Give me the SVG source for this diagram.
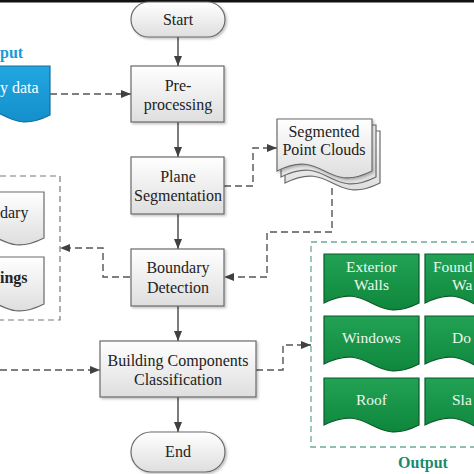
<svg xmlns="http://www.w3.org/2000/svg" width="474" height="474" viewBox="0 0 474 474">
<style>
  .t{font-family:"Liberation Serif","Times New Roman",serif;font-size:16px;fill:#222;text-anchor:middle}
  .tw{font-family:"Liberation Serif","Times New Roman",serif;font-size:15.5px;fill:#eef8f0;text-anchor:middle}
  .proc{fill:url(#gGray);stroke:#6a6a6a;stroke-width:1.2;filter:url(#sh)}
  .doc{fill:url(#gGray);stroke:#6a6a6a;stroke-width:1.2}
  .gdoc{fill:url(#gGreen);stroke:#0b5a2a;stroke-width:1.2}
  .solid{fill:none;stroke:#444;stroke-width:1.4;marker-end:url(#ah)}
  .dash{fill:none;stroke:#555;stroke-width:1.4;stroke-dasharray:7 4;marker-end:url(#ah)}
</style>
<defs>
  <linearGradient id="gGray" x1="0" y1="0" x2="0" y2="1">
    <stop offset="0" stop-color="#ffffff"/>
    <stop offset="1" stop-color="#dedede"/>
  </linearGradient>
  <linearGradient id="gGreen" x1="0" y1="0" x2="0" y2="1">
    <stop offset="0" stop-color="#22a255"/>
    <stop offset="1" stop-color="#0e873c"/>
  </linearGradient>
  <linearGradient id="gBlue" x1="0" y1="0" x2="0" y2="1">
    <stop offset="0" stop-color="#22a6e0"/>
    <stop offset="1" stop-color="#1490cc"/>
  </linearGradient>
  <filter id="sh" x="-10%" y="-10%" width="130%" height="130%">
    <feDropShadow dx="1.5" dy="1.5" stdDeviation="1" flood-color="#000" flood-opacity="0.25"/>
  </filter>
  <marker id="ah" viewBox="0 0 10 8" refX="10" refY="4" markerWidth="10" markerHeight="8" markerUnits="userSpaceOnUse" orient="auto">
    <path d="M0,0 L10,4 L0,8 z" fill="#404040"/>
  </marker>
</defs>

<rect x="0" y="0" width="474" height="2.5" fill="#111"/>

<!-- containers -->
<g id="left-container">
  <rect x="-10" y="176" width="70" height="144" fill="none" stroke="#777" stroke-width="1.2" stroke-dasharray="6 4"/>
</g>
<g id="output-container">
  <rect x="311" y="242" width="180" height="205" fill="none" stroke="#6aaa9a" stroke-width="1.3" stroke-dasharray="6 4"/>
  <text x="423" y="468" class="t" style="font-weight:bold;fill:#1a8a6e">Output</text>
</g>

<!-- connectors -->
<g id="connectors">
  <line x1="178" y1="37" x2="178" y2="66" class="solid"/>
  <line x1="178" y1="122" x2="178" y2="157" class="solid"/>
  <line x1="178" y1="214" x2="178" y2="249" class="solid"/>
  <line x1="178" y1="306" x2="178" y2="341" class="solid"/>
  <line x1="178" y1="397" x2="178" y2="432" class="solid"/>
  <polyline points="50,94 131,94" class="dash"/>
  <polyline points="224,186 253,186 253,148 277,148" class="dash"/>
  <polyline points="332,188 332,232 267,232 267,277 224,277" class="dash"/>
  <polyline points="130,277 103,277 103,248 60,248" class="dash"/>
  <polyline points="0,370 100,370" class="dash"/>
  <polyline points="256,370 283,370 283,345 311,345" class="dash"/>
</g>

<!-- flow nodes -->
<g id="start">
  <rect x="131" y="2" width="94" height="35" rx="17.5" class="proc"/>
  <text x="178" y="25" class="t">Start</text>
</g>
<g id="preprocessing">
  <rect x="131" y="66" width="93" height="56" class="proc"/>
  <text x="178" y="91" class="t">Pre-</text>
  <text x="178" y="110" class="t">processing</text>
</g>
<g id="plane-segmentation">
  <rect x="131" y="157" width="93" height="57" class="proc"/>
  <text x="178" y="182" class="t">Plane</text>
  <text x="178" y="201" class="t">Segmentation</text>
</g>
<g id="boundary-detection">
  <rect x="131" y="249" width="93" height="57" class="proc"/>
  <text x="178" y="273" class="t">Boundary</text>
  <text x="178" y="293" class="t">Detection</text>
</g>
<g id="building-components">
  <rect x="100" y="341" width="156" height="56" class="proc"/>
  <text x="178" y="366" class="t">Building Components</text>
  <text x="178" y="385" class="t">Classification</text>
</g>
<g id="end">
  <rect x="131" y="432" width="94" height="40" rx="20" class="proc"/>
  <text x="178" y="457" class="t">End</text>
</g>

<!-- input -->
<g id="input">
  <text x="0" y="58" style="font-family:'Liberation Serif',serif;font-size:16px;font-weight:bold;fill:#1a9ad6">put</text>
  <path d="M-45,66 H50 V115 C2.5,139 2.5,91 -45,115 Z" fill="url(#gBlue)" stroke="#1670a0" stroke-width="1.2"/>
  <text x="0" y="93" style="font-family:'Liberation Serif',serif;font-size:16px;fill:#fff">y data</text>
</g>

<!-- segmented point clouds -->
<g id="segmented-point-clouds">
  <path d="M285,131 H380 V183 C332.5,207 332.5,159 285,183 Z" class="doc"/>
  <path d="M281,125 H376 V177 C328.5,201 328.5,153 281,177 Z" class="doc"/>
  <path d="M277,119 H372 V171 C324.5,195 324.5,147 277,171 Z" class="doc" style="filter:url(#sh)"/>
  <text x="324" y="137" class="t">Segmented</text>
  <text x="324" y="155" class="t">Point Clouds</text>
</g>

<!-- left outputs -->
<g id="boundary-doc">
  <path d="M-50,192 H44 V238 C-3,262 -3,214 -50,238 Z" class="doc"/>
  <text x="0" y="218" style="font-family:'Liberation Serif',serif;font-size:16px;fill:#222">dary</text>
</g>
<g id="drawings-doc">
  <path d="M-50,257 H44 V304 C-3,328 -3,280 -50,304 Z" class="doc"/>
  <text x="0" y="283" style="font-family:'Liberation Serif',serif;font-size:16px;font-weight:bold;fill:#222">ings</text>
</g>

<!-- output components -->
<g id="exterior-walls">
  <path d="M324,254 H419 V303 C371.5,327 371.5,279 324,303 Z" class="gdoc"/>
  <text x="371.5" y="272" class="tw">Exterior</text>
  <text x="371.5" y="290" class="tw">Walls</text>
</g>
<g id="foundation-walls">
  <path d="M425,254 H520 V303 C472.5,327 472.5,279 425,303 Z" class="gdoc"/>
  <text x="433" y="272" class="tw" style="text-anchor:start">Found</text>
  <text x="452" y="290" class="tw" style="text-anchor:start">Wa</text>
</g>
<g id="windows">
  <path d="M324,316 H419 V364 C371.5,388 371.5,340 324,364 Z" class="gdoc"/>
  <text x="371.5" y="343" class="tw">Windows</text>
</g>
<g id="doors">
  <path d="M425,316 H520 V364 C472.5,388 472.5,340 425,364 Z" class="gdoc"/>
  <text x="452" y="343" class="tw" style="text-anchor:start">Do</text>
</g>
<g id="roof">
  <path d="M324,378 H419 V425 C371.5,449 371.5,401 324,425 Z" class="gdoc"/>
  <text x="371.5" y="405" class="tw">Roof</text>
</g>
<g id="slabs">
  <path d="M425,378 H520 V425 C472.5,449 472.5,401 425,425 Z" class="gdoc"/>
  <text x="452" y="405" class="tw" style="text-anchor:start">Sla</text>
</g>
</svg>
